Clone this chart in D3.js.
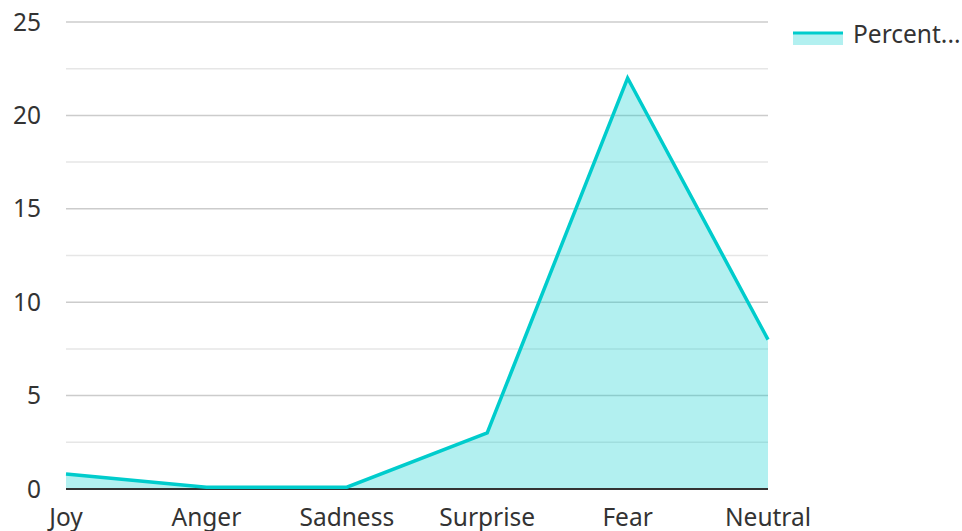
<!DOCTYPE html>
<html>
<head>
    <meta charset="utf-8">
    <title>Emotion percentages</title>
    <script src="https://cdn.jsdelivr.net/npm/d3@7"></script>
    <style>
        body { margin: 0; background: #fff; }
        text { font-family: "Noto Sans", sans-serif; fill: #333; }
    </style>
</head>
<body>
    <div id="chart"></div>
    <script>
        // data
        var emotions = ["Joy", "Anger", "Sadness", "Surprise", "Fear", "Neutral"];
        var percents = [0.8, 0.1, 0.1, 3.0, 22, 8];
        var yTicks = [0, 5, 10, 15, 20, 25];
        var minorTicks = [2.5, 7.5, 12.5, 17.5, 22.5];
        var seriesName = "Percent...";

        var W = 962, H = 531;
        var margin = { top: 22, right: 194, bottom: 42, left: 66 };
        var width = W - margin.left - margin.right,
            height = H - margin.top - margin.bottom;
        var fontSize = "24.5px";

        var svg = d3.select("#chart").append("svg")
            .attr("width", W)
            .attr("height", H);
        var g = svg.append("g").attr("transform", `translate(${margin.left},${margin.top})`);

        var x = d3.scalePoint().domain(emotions).range([0, width]);
        var y = d3.scaleLinear().domain([0, 25]).range([height, 0]);

        // minor gridlines
        g.selectAll(".minor").data(minorTicks).enter().append("line")
            .attr("x1", 0).attr("x2", width)
            .attr("y1", d => y(d)).attr("y2", d => y(d))
            .attr("stroke", "#e6e6e6").attr("stroke-width", 1.5);

        // major gridlines
        g.selectAll(".major").data(yTicks.filter(d => d > 0)).enter().append("line")
            .attr("x1", 0).attr("x2", width)
            .attr("y1", d => y(d)).attr("y2", d => y(d))
            .attr("stroke", "#cccccc").attr("stroke-width", 1.5);

        // y labels
        g.selectAll(".ylab").data(yTicks).enter().append("text")
            .attr("x", -25)
            .attr("y", d => y(d))
            .attr("dy", "0.35em")
            .attr("text-anchor", "end")
            .style("font-size", fontSize)
            .text(d => d);

        var area = d3.area()
            .x((d, i) => x(emotions[i]))
            .y0(height)
            .y1(d => y(d));
        var line = d3.line()
            .x((d, i) => x(emotions[i]))
            .y(d => y(d));

        g.append("path").datum(percents)
            .attr("d", area)
            .attr("fill", "#00cccc")
            .attr("fill-opacity", 0.3);

        // x axis line
        g.append("line")
            .attr("x1", 0).attr("x2", width)
            .attr("y1", height).attr("y2", height)
            .attr("stroke", "#333").attr("stroke-width", 2);

        g.append("path").datum(percents)
            .attr("d", line)
            .attr("fill", "none")
            .attr("stroke", "#00cccc")
            .attr("stroke-width", 3.5);

        // x labels
        g.selectAll(".xlab").data(emotions).enter().append("text")
            .attr("x", d => x(d))
            .attr("y", height + 37)
            .attr("text-anchor", "middle")
            .style("font-size", fontSize)
            .text(d => d);

        // legend
        var lg = svg.append("g").attr("transform", "translate(793,32)");
        lg.append("rect").attr("x", 0).attr("y", 1).attr("width", 50).attr("height", 12)
            .attr("fill", "#00cccc").attr("fill-opacity", 0.3);
        lg.append("line").attr("x1", 0).attr("x2", 50).attr("y1", 1).attr("y2", 1)
            .attr("stroke", "#00cccc").attr("stroke-width", 3);
        lg.append("text").attr("x", 60).attr("y", 2).attr("dy", "0.35em")
            .style("font-size", fontSize)
            .text(seriesName);
    </script>
</body>
</html>
